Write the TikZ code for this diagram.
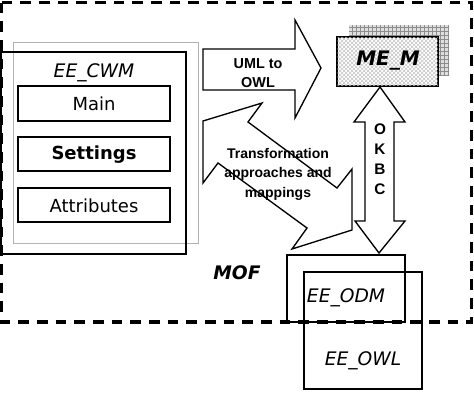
\documentclass[tikz,border=0pt]{standalone}
\usepackage{fontspec}
\setmainfont{DejaVu Sans}
\newfontfamily\arrowfont{Liberation Sans}
\usetikzlibrary{patterns}
\tikzset{every picture/.style={line width=0.75pt}}
\tikzset{
  boxline/.style={draw=black, line width=1pt},
  boxtext/.style={inner sep=0pt, font=\fontsize{13.5}{16}\selectfont},
  arrowtext/.style={inner sep=0pt, align=center, font=\arrowfont\bfseries\fontsize{10.8}{14.4}\selectfont}
}

\begin{document}
\begin{tikzpicture}[x=0.75pt,y=0.75pt,yscale=-1,xscale=1]
\useasboundingbox (0,0) rectangle (474,411);
%Dashed frame (MOF)
\draw [line width=2.6pt, dash pattern=on 8pt off 6pt]   (1.7,2.5) rectangle (471.5,322) ;
%Shape: Rectangle (EE_CWM, grey)
\draw [color=gray!60, line width=0.5pt]   (13,42) rectangle (198,243) ;
%Shape: Rectangle (EE_CWM)
\draw [boxline]   (1,52) rectangle (186,254) ;
%Shape: Rectangle (Main)
\draw [boxline]   (18,86) rectangle (170,121) ;
%Shape: Rectangle (Settings)
\draw [boxline]   (18,137) rectangle (170,171) ;
%Shape: Rectangle (Attributes)
\draw [boxline]   (18,188) rectangle (170,222) ;
%Right Arrow (UML to OWL)
\draw [boxline]   (203,49) -- (295,49) -- (295,20) -- (321,68) -- (295,118) -- (295,90) -- (203,90) -- cycle ;
%Shape: Rectangle (ME_M shadow)
\fill [gray!25]   (349,25) rectangle (449,75) ;
\draw [draw=none, pattern=grid, pattern color=gray!90]   (349,25) rectangle (449,75) ;
%Shape: Rectangle (ME_M)
\draw [boxline, fill=white]   (337,37) rectangle (438,86) ;
\fill [pattern=crosshatch, pattern color=gray!45]   (337.5,37.5) rectangle (437.5,85.5) ;
%Up-Down Arrow (OKBC)
\draw [boxline]   (380,87) -- (405,122) -- (394,122) -- (394,221) -- (405,221) -- (379,253) -- (355,221) -- (365,221) -- (365,122) -- (354,122) -- cycle ;
%Double Arrow (Transformation)
\draw [boxline]   (203,121) -- (262,103) -- (248,122) -- (337,188) -- (352,169) -- (352,230) -- (292,249) -- (307,228) -- (218,163) -- (203,183) -- cycle ;
%Shape: Rectangle (EE_ODM)
\draw [boxline]   (287,255) rectangle (405,322) ;
%Shape: Rectangle (EE_OWL)
\draw [boxline]   (304,272) rectangle (422,389) ;

%Texts
\node [boxtext, font=\fontsize{14}{16}\selectfont\itshape] (cwm) at (94,73) {EE\_CWM};
\node [boxtext] (main) at (94,104) {Main};
\node [boxtext, font=\fontsize{13.5}{16}\selectfont\bfseries] (settings) at (94,155) {Settings};
\node [boxtext] (attributes) at (94,206) {Attributes};
\node [arrowtext] (umlowl) at (258,73) {UML to\\OWL};
\node [boxtext, font=\fontsize{15}{16}\selectfont\bfseries\itshape] (mem) at (388,61) {ME\_M};
\node [arrowtext, font=\arrowfont\bfseries\fontsize{11.5}{15}\selectfont] (okbc) at (380,159) {O\\K\\B\\C};
\node [arrowtext, font=\arrowfont\bfseries\fontsize{10.5}{14.6}\selectfont] (transf) at (278,174) {Transformation\\approaches and\\mappings};
\node [boxtext, font=\fontsize{14}{16}\selectfont\bfseries\itshape] (mof) at (237,273) {MOF};
\node [boxtext, font=\fontsize{14}{16}\selectfont\itshape] (odm) at (346,298) {EE\_ODM};
\node [boxtext, font=\fontsize{14}{16}\selectfont\itshape] (owl) at (363,361) {EE\_OWL};
\end{tikzpicture}
\end{document}
